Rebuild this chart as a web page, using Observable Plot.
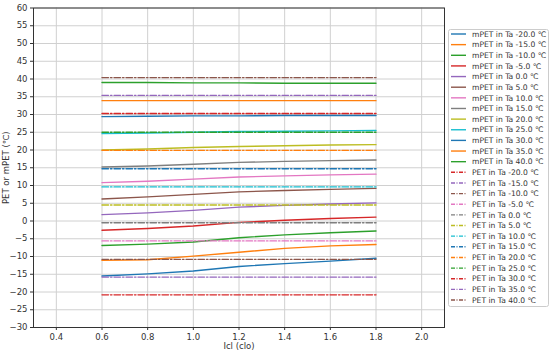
<!DOCTYPE html>
<html>
<head>
<meta charset="utf-8">
<script src="https://cdn.jsdelivr.net/npm/d3@7"></script>
<script src="https://cdn.jsdelivr.net/npm/@observablehq/plot@0.6"></script>
<style>
  body { margin: 0; background: #fff; }
  #wrap { position: relative; width: 550px; height: 351px; }
  #legend { position: absolute; left: 448px; top: 29px; }
</style>
</head>
<body>
<div id="wrap"><div id="chart"></div><svg id="legend" width="101" height="278"></svg></div>
<script>
// Clothing insulation values (clo)
const clo = [0.6, 0.8, 1.0, 1.2, 1.4, 1.6, 1.8];
// Air temperatures (°C)
const ta = [-20, -15, -10, -5, 0, 5, 10, 15, 20, 25, 30, 35, 40];
// mPET per air temperature (rows follow ta, columns follow clo)
const mPET = [
  [-15.5, -14.9, -14.1, -12.8, -12.0, -11.3, -10.5],
  [-11.1, -10.9, -9.9, -8.8, -7.7, -7.0, -6.6],
  [-6.9, -6.5, -5.9, -4.7, -3.9, -3.3, -2.8],
  [-2.6, -2.1, -1.4, -0.4, 0.2, 0.7, 1.1],
  [1.8, 2.3, 3.0, 3.9, 4.4, 4.8, 5.1],
  [6.2, 6.8, 7.5, 8.2, 8.6, 8.9, 9.2],
  [10.8, 11.2, 11.8, 12.4, 12.7, 13.0, 13.2],
  [15.2, 15.5, 16.0, 16.5, 16.8, 17.0, 17.2],
  [20.0, 20.3, 20.7, 21.0, 21.2, 21.4, 21.5],
  [24.6, 24.8, 25.0, 25.2, 25.3, 25.4, 25.5],
  [29.4, 29.5, 29.6, 29.6, 29.7, 29.7, 29.7],
  [33.9, 33.9, 33.9, 33.9, 33.9, 33.9, 33.9],
  [39.0, 39.0, 38.9, 38.9, 38.8, 38.8, 38.8]
];
// PET per air temperature (constant over clo)
const PET = [-20.8, -15.8, -10.8, -5.6, -0.5, 4.5, 9.6, 14.7, 19.9, 25.0, 30.3, 35.4, 40.4];
// Tick values
const xTicks = [0.4, 0.6, 0.8, 1.0, 1.2, 1.4, 1.6, 1.8, 2.0];
const yTicks = [-30, -25, -20, -15, -10, -5, 0, 5, 10, 15, 20, 25, 30, 35, 40, 45, 50, 55, 60];
// Axis titles
const xTitle = "Icl (clo)";
const yTitle = "PET or mPET (\u2103)";
// matplotlib tab10 cycle
const tab10 = ["#1f77b4", "#ff7f0e", "#2ca02c", "#d62728", "#9467bd", "#8c564b", "#e377c2", "#7f7f7f", "#bcbd22", "#17becf"];

const mName = t => `mPET in Ta ${t.toFixed(1)} \u2103`;
const pName = t => `PET in Ta ${t.toFixed(1)} \u2103`;
const names = [...ta.map(mName), ...ta.map(pName)];
const colors = names.map((_, i) => tab10[i % 10]);

const mRows = [];
ta.forEach((t, i) => clo.forEach((c, j) => mRows.push({series: mName(t), clo: c, v: mPET[i][j]})));
const pRows = [];
ta.forEach((t, i) => clo.forEach(c => pRows.push({series: pName(t), clo: c, v: PET[i]})));

const dash = "6.5,2,1.5,2";

const chart = Plot.plot({
  width: 550,
  height: 351,
  marginLeft: 33,
  marginRight: 106,
  marginTop: 7.5,
  marginBottom: 24,
  style: {fontFamily: "DejaVu Sans", fontSize: "8.5px", color: "#333", background: "transparent"},
  x: {domain: [0.3, 2.1]},
  y: {domain: [-30, 60]},
  color: {domain: names, range: colors},
  marks: [
    Plot.gridX({ticks: xTicks, stroke: "#d0d0d0", strokeOpacity: 1}),
    Plot.gridY({ticks: yTicks, stroke: "#d0d0d0", strokeOpacity: 1}),
    Plot.line(mRows, {x: "clo", y: "v", z: "series", stroke: "series", strokeWidth: 1.4}),
    Plot.line(pRows, {x: "clo", y: "v", z: "series", stroke: "series", strokeWidth: 1.4, strokeDasharray: dash}),
    Plot.frame({stroke: "#333", strokeWidth: 1}),
    Plot.axisX({ticks: xTicks, tickFormat: d3.format(".1f"), tickSize: 3, tickPadding: 3, label: null}),
    Plot.axisY({ticks: yTicks, tickFormat: d3.format("d"), tickSize: 3, tickPadding: 3, label: null}),
    Plot.text([xTitle], {text: d => d, frameAnchor: "bottom", dy: 19, lineAnchor: "middle", fill: "#333", fontSize: 8.5}),
    Plot.text([yTitle], {text: d => d, frameAnchor: "left", dx: -27, rotate: -90, lineAnchor: "middle", textAnchor: "middle", fill: "#333", fontSize: 8.5})
  ]
});
document.getElementById("chart").append(chart);

// Legend
const lg = d3.select("#legend");
lg.append("rect").attr("x", 0.5).attr("y", 0.5).attr("width", 100).attr("height", 277)
  .attr("rx", 2).attr("fill", "#fff").attr("fill-opacity", 0.8).attr("stroke", "#ccc");
names.forEach((n, i) => {
  const y = 5 + i * 10.64;
  lg.append("line").attr("x1", 3).attr("x2", 18).attr("y1", y).attr("y2", y)
    .attr("stroke", colors[i]).attr("stroke-width", 1.4)
    .attr("stroke-dasharray", i >= ta.length ? "4,1.5,1,1.5" : null);
  lg.append("text").attr("x", 24).attr("y", y).attr("dy", "0.35em")
    .attr("font-family", "DejaVu Sans").attr("font-size", "7.6px").attr("fill", "#333").text(n);
});
</script>
</body>
</html>
